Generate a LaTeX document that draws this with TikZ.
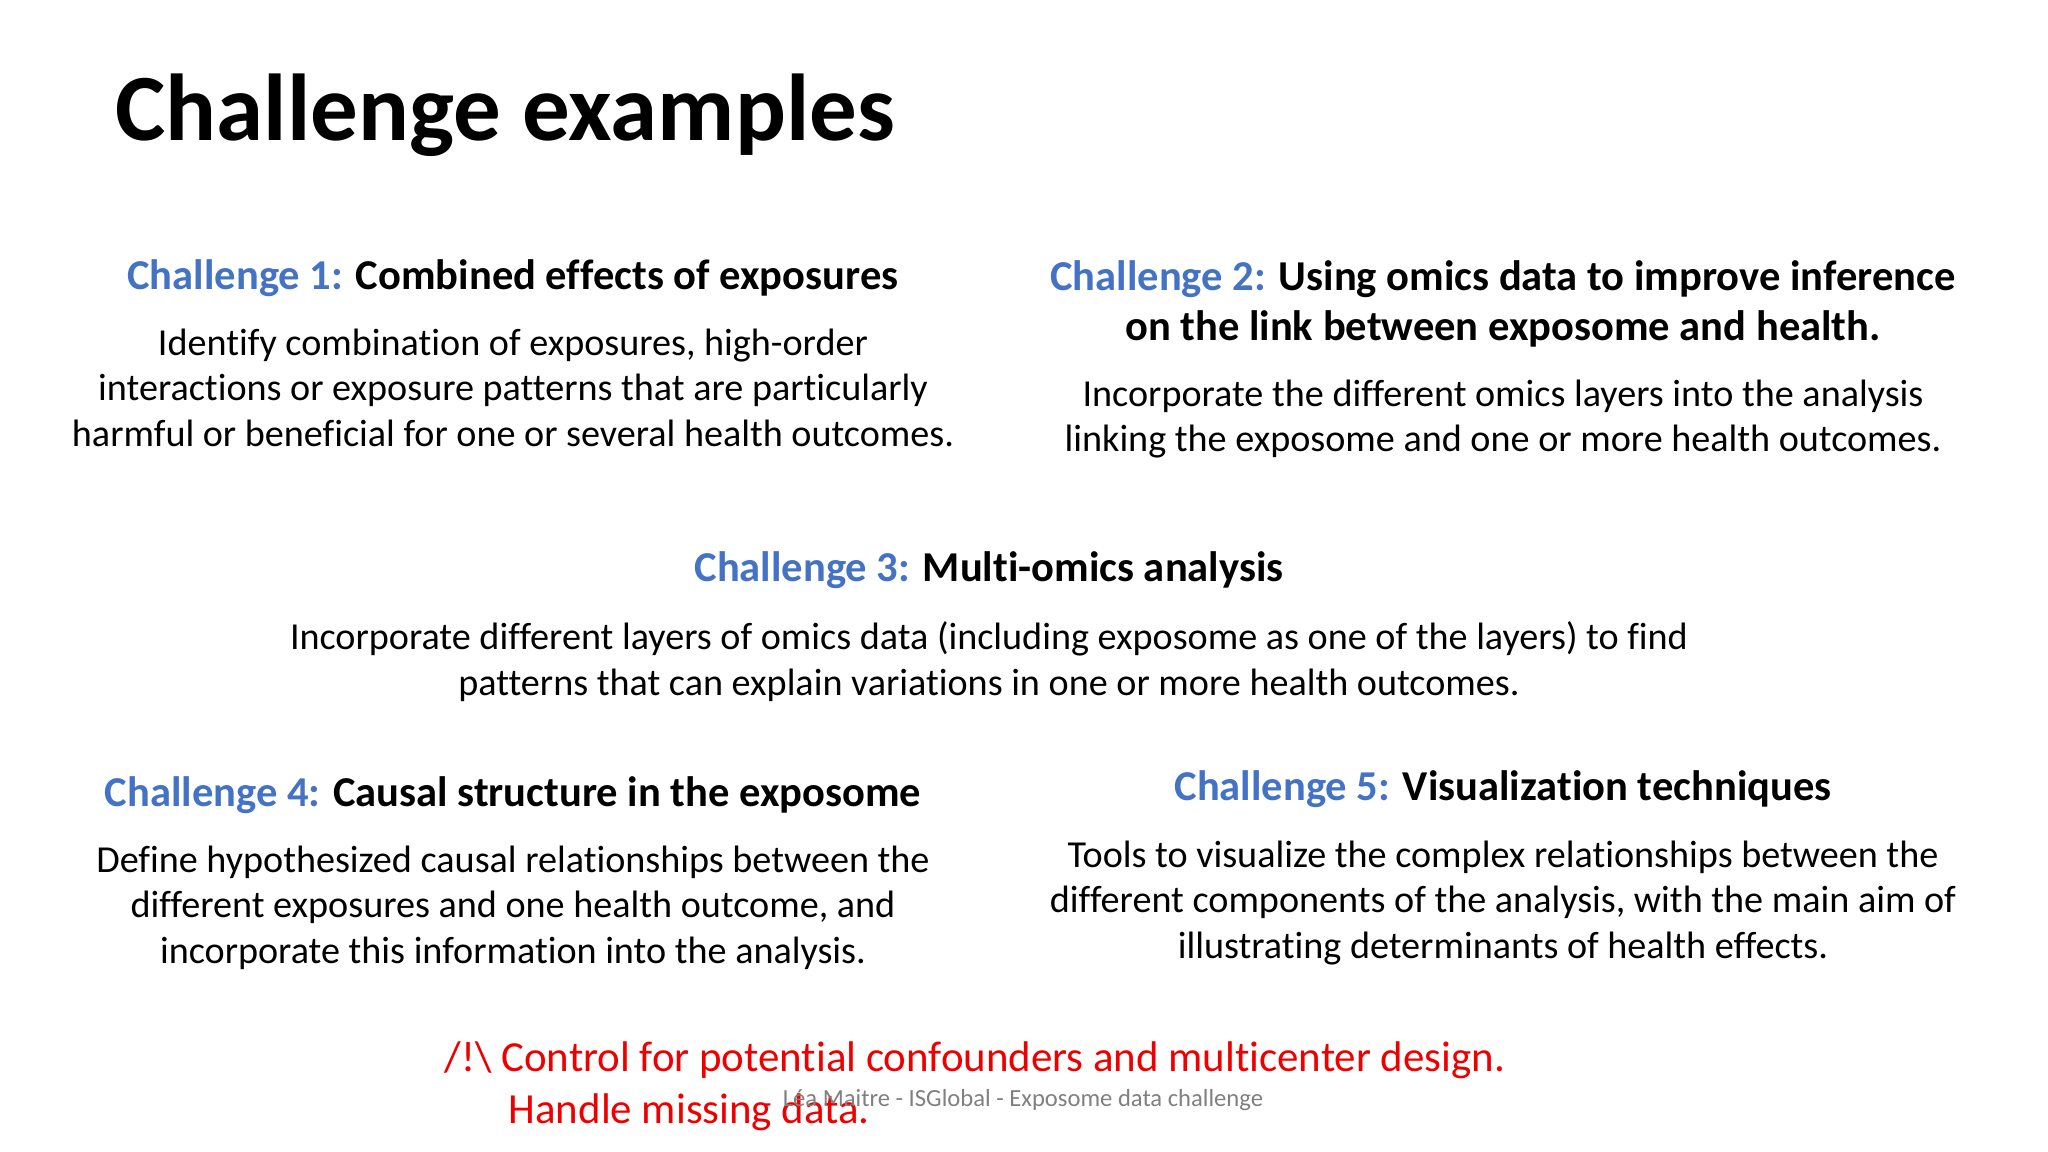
\documentclass[tikz,border=0pt]{standalone}
\usepackage{fontspec}
\setmainfont{Carlito}[Ligatures=NoCommon]
\usetikzlibrary{positioning}
\definecolor{chblue}{RGB}{68,114,196}
\definecolor{warnred}{RGB}{238,0,0}
\tikzset{
    head/.style  = {anchor=base, inner sep=0pt, align=center,
            font=\fontsize{12.1}{14.5}\selectfont\bfseries},
    body/.style  = {anchor=north, inner sep=0pt, align=center,
            font=\fontsize{10.85}{13}\selectfont},
}
\newcommand{\chal}[1]{\textcolor{chblue}{Challenge #1:}}
\begin{document}
\begin{tikzpicture}[x=0.01cm,y=-0.01cm]
    \useasboundingbox (0,0) rectangle (2048,1152);
    % Title
    \node[anchor=base west, inner sep=0pt, font=\fontsize{27}{32}\selectfont\bfseries]
        (title) at (115,141) {Challenge examples};
    % Challenges
    \node[head] (c1) at (513,290) {\chal{1} Combined effects of exposures};
    \node[body] (b1) at (513,328) {Identify combination of exposures, high-order\\
        interactions or exposure patterns that are particularly\\
        harmful or beneficial for one or several health outcomes.};
    \node[head] (c2) at (1503,341) {\chal{2} Using omics data to improve inference\\
        on the link between exposome and health.};
    \node[body] (b2) at (1503,379) {Incorporate the different omics layers into the analysis\\
        linking the exposome and one or more health outcomes.};
    \node[head] (c3) at (989,581) {\chal{3} Multi-omics analysis};
    \node[body] (b3) at (989,621) {Incorporate different layers of omics data (including exposome as one of the layers) to find\\
        patterns that can explain variations in one or more health outcomes.};
    \node[head] (c4) at (513,806) {\chal{4} Causal structure in the exposome};
    \node[body] (b4) at (513,845) {Define hypothesized causal relationships between the\\
        different exposures and one health outcome, and\\
        incorporate this information into the analysis.};
    \node[head] (c5) at (1503,800) {\chal{5} Visualization techniques};
    \node[body] (b5) at (1503,840) {Tools to visualize the complex relationships between the\\
        different components of the analysis, with the main aim of\\
        illustrating determinants of health effects.};
    % Warning and footer
    \node[anchor=base, inner sep=0pt, text=warnred, font=\fontsize{12.2}{15}\selectfont]
        (warn) at (975,1071) {/!\textbackslash{} Control for potential confounders and multicenter design.};
    \node[anchor=base west, inner sep=0pt, text=warnred, font=\fontsize{12.2}{15}\selectfont]
        (miss) at (508,1123) {Handle missing data.};
    \node[anchor=base, inner sep=0pt, text=gray, font=\fontsize{7}{8}\selectfont]
        (foot) at (1023,1106) {Léa Maitre - ISGlobal - Exposome data challenge};
\end{tikzpicture}
\end{document}
